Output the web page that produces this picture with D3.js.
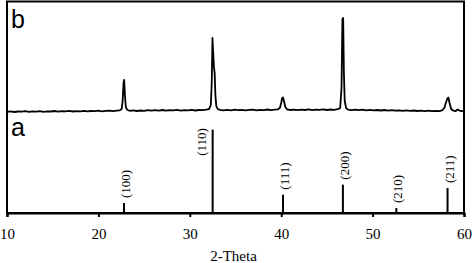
<!DOCTYPE html>
<html>
<head>
<meta charset="utf-8">
<script src="https://cdn.jsdelivr.net/npm/d3@7"></script>
<style>
  html, body { margin: 0; padding: 0; background: #fff; }
  svg { display: block; }
</style>
</head>
<body>
<svg id="chart" width="474" height="263"></svg>
<script>
// ---- Data ----
// Panel b: measured XRD pattern (2-theta, intensity a.u.)
const patternTheta = [
  10.0,10.4,10.8,11.2,11.6,12.0,12.4,12.8,13.2,13.6,14.0,14.4,14.8,15.2,15.6,16.0,16.4,16.8,17.2,17.6,
  18.0,18.4,18.8,19.2,19.6,20.0,20.4,20.8,21.2,21.6,22.0,22.3,22.55,22.65,22.75,22.82,22.9,23.0,23.15,23.4,
  23.8,24.2,24.6,25.0,25.4,25.8,26.2,26.6,27.0,27.4,27.8,28.2,28.6,29.0,29.4,29.8,30.2,30.6,31.0,31.4,
  31.8,32.1,32.3,32.4,32.48,32.56,32.64,32.72,32.8,32.9,33.05,33.3,33.7,34.1,34.5,34.9,35.3,35.7,36.1,36.5,
  36.9,37.3,37.7,38.1,38.5,38.9,39.3,39.6,39.85,40.0,40.1,40.2,40.3,40.45,40.65,41.0,41.4,41.8,42.2,42.6,
  43.0,43.4,43.8,44.2,44.6,45.0,45.4,45.8,46.2,46.45,46.6,46.7,46.78,46.86,46.95,47.1,47.3,47.7,48.1,48.5,
  48.9,49.3,49.7,50.1,50.5,50.9,51.3,51.7,52.1,52.5,52.9,53.3,53.7,54.1,54.5,54.9,55.3,55.7,56.1,56.5,
  56.9,57.3,57.6,57.85,58.05,58.2,58.3,58.42,58.6,58.85,59.1,59.3,59.5,59.75,60.0
];
const patternIntensity = [
  1.2,1.6,1.0,1.5,1.3,1.8,1.1,1.6,1.4,1.9,1.2,1.7,1.5,2.0,1.3,1.8,1.6,2.1,1.5,1.9,
  1.7,2.2,1.6,2.0,1.8,2.3,1.7,2.1,2.4,1.9,2.3,2.6,4.0,12,30,33,18,6,3.2,2.2,
  2.7,2.0,2.5,2.2,2.9,2.3,2.8,2.4,3.0,2.3,2.9,2.6,3.1,2.4,2.9,2.7,3.2,2.5,3.0,2.8,
  3.3,3.8,8,30,75,60,46,40,18,7,4,3.2,2.6,3.1,2.7,3.3,2.8,3.2,2.6,3.1,
  3.4,2.7,3.2,2.9,3.5,2.8,3.3,3.6,5,10,15,15.5,12,6,3.6,3.0,3.4,2.8,3.3,3.0,
  3.6,2.9,3.4,3.1,3.7,3.0,3.5,3.2,3.8,5,25,94,95,40,12,5,3.4,2.9,3.4,2.8,
  3.3,2.7,3.2,2.6,3.0,2.5,3.0,2.4,2.8,2.3,2.7,2.2,2.6,2.1,2.5,2.0,2.4,1.9,2.3,1.8,
  2.2,1.9,2.6,5,11,15,15.3,10,4,2.3,2.0,3.5,2.4,1.8,2.5
];
// Panel a: reference stick pattern
const refTheta = [22.8, 32.5, 40.2, 46.75, 52.6, 58.2];
const refIntensity = [12, 100, 22, 34, 6, 30];
const refLabels = ["(100)", "(110)", "(111)", "(200)", "(210)", "(211)"];
// Axis
const xTicks = [10, 20, 30, 40, 50, 60];
const xTitle = "2-Theta";
const panelLabels = ["b", "a"];

// ---- Layout ----
const svg = d3.select("#chart");
const padL = 7, padR = 464, padT = 1.5, padB = 213, padMid = 113;

const x = d3.scaleLinear().domain([10, 60]).range([padL, padR]);
const yB = d3.scaleLinear().domain([0, 110]).range([padMid, padT + 1.5]);
const yA = d3.scaleLinear().domain([0, 120]).range([padB, padMid]);

const serif = "'Liberation Serif', 'Times New Roman', serif";
const sans = "'Liberation Sans', Arial, sans-serif";

// Panel b line
const pts = patternTheta.map((t, i) => [t, patternIntensity[i]]);
svg.append("path")
  .datum(pts)
  .attr("fill", "none")
  .attr("stroke", "#000")
  .attr("stroke-width", 1.8)
  .attr("stroke-linejoin", "round")
  .attr("d", d3.line().x(d => x(d[0])).y(d => yB(d[1])));

// Panel a sticks
const sticks = refTheta.map((t, i) => ({ t, v: refIntensity[i], label: refLabels[i] }));
svg.append("g").selectAll("line")
  .data(sticks).join("line")
  .attr("x1", d => x(d.t)).attr("x2", d => x(d.t))
  .attr("y1", yA(0)).attr("y2", d => yA(d.v))
  .attr("stroke", "#000").attr("stroke-width", 2);

svg.append("g").selectAll("text")
  .data(sticks).join("text")
  .attr("transform", d => {
    const sx = x(d.t);
    const sy = yA(d.v);
    if (d.v > 80) return `translate(${sx - 11.5},${sy - 1.5}) rotate(-90)`;
    return `translate(${sx + 1.5},${sy - 5}) rotate(-90)`;
  })
  .attr("text-anchor", d => d.v > 80 ? "end" : "start")
  .attr("dy", "0.35em")
  .attr("font-family", serif)
  .attr("font-size", 13)
  .attr("fill", "#000")
  .text(d => d.label);

// Frame
svg.append("rect")
  .attr("x", padL).attr("y", padT)
  .attr("width", padR - padL).attr("height", padB - padT)
  .attr("fill", "none").attr("stroke", "#000").attr("stroke-width", 2);

// X axis
const axis = svg.append("g")
  .attr("transform", `translate(0,${padB})`)
  .call(d3.axisBottom(x).tickValues(xTicks).tickFormat(d3.format("d")).tickSize(4).tickPadding(11));
axis.attr("font-family", serif).attr("font-size", 15);
axis.select(".domain").attr("stroke-width", 2);
axis.selectAll(".tick line").attr("stroke-width", 2);
axis.selectAll(".tick text")
  .style("font-family", serif)
  .style("font-size", "15px")
  .attr("fill", "#000");

svg.append("text")
  .attr("x", (padL + padR) / 2 - 2)
  .attr("y", 261)
  .attr("text-anchor", "middle")
  .attr("font-family", serif)
  .attr("font-size", 15)
  .attr("fill", "#000")
  .text(xTitle);

// Panel labels
svg.append("text").attr("x", 11).attr("y", 28)
  .attr("font-family", sans).attr("font-size", 25).attr("fill", "#000").text(panelLabels[0]);
svg.append("text").attr("x", 11).attr("y", 136)
  .attr("font-family", sans).attr("font-size", 25).attr("fill", "#000").text(panelLabels[1]);
</script>
</body>
</html>
